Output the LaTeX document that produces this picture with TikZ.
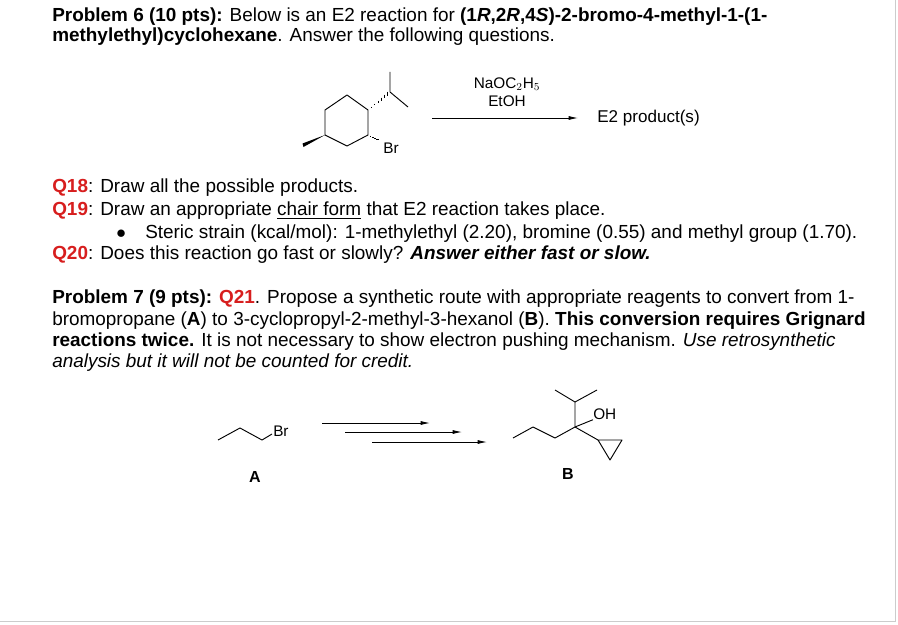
\documentclass[tikz,border=0pt]{standalone}
\usepackage{fontspec}
\setmainfont{Liberation Sans}
\usetikzlibrary{arrows.meta,calc}
\begin{document}
\begin{tikzpicture}[x=0.75pt,y=-0.75pt,
  txt/.style={anchor=west,inner sep=0,font=\fontsize{14.2}{16}\selectfont},
  sm/.style={inner sep=0,font=\fontsize{11.5}{13}\selectfont},
  bond/.style={line width=0.7pt,line join=round},
  rxn/.style={line width=0.6pt,-{Latex[length=7pt,width=3pt]}}]
\useasboundingbox (0,0) rectangle (898,624);
\draw[gray!40] (895,0) -- (895,621) -- (0,621);
\definecolor{qred}{RGB}{215,30,30}
\node[txt] (l1) at (52,17) {\textbf{Problem 6 (10 pts):} Below is an E2 reaction for \textbf{(1\textit{R},2\textit{R},4\textit{S})-2-bromo-4-methyl-1-(1-}};
\node[txt] (l2) at (52,37) {\textbf{methylethyl)cyclohexane}. Answer the following questions.};
% cyclohexane
\coordinate (r1) at (347,95); \coordinate (r2) at (368,110); \coordinate (r3) at (368,135);
\coordinate (r4) at (347,146); \coordinate (r5) at (325,135); \coordinate (r6) at (325,110);
\draw[bond] (r1)--(r2)--(r3)--(r4)--(r5)--(r6)--cycle;
\fill (r5) -- (302.5,143.5) -- (303.5,147) -- cycle;
\coordinate (ip) at (390,92);
\foreach \t in {0.15,0.3,...,0.95} \draw[line width=0.5pt] ($(r2)!\t!(ip)+(0,-2.5*\t)$) -- ($(r2)!\t!(ip)+(0,2.5*\t)$);
\draw[bond] (ip)--(390,72) (ip)--(408,107);
\node[sm] (br1) at (391,148) {Br};
\foreach \t in {0.2,0.4,0.6,0.8} \draw[line width=0.5pt] ($(r3)!\t!(380,140)+(-2*\t,0)$) -- ($(r3)!\t!(380,140)+(2*\t,0)$);
\coordinate (a1s) at (432,118); \coordinate (a1e) at (578,118);
\draw[rxn] (a1s) -- (a1e);
\node[sm] (na) at (507,84) {NaOC$_2$H$_5$};
\node[sm] (et) at (507,101) {EtOH};
\node[txt,font=\fontsize{12.8}{14}\selectfont] (e2) at (597,118) {E2 product(s)};
% questions
\node[txt] (q18) at (52,188) {\textcolor{qred}{\textbf{Q18}}: Draw all the possible products.};
\node[txt] (q19) at (52,211) {\textcolor{qred}{\textbf{Q19}}: Draw an appropriate \underline{chair form} that E2 reaction takes place.};
\node[txt] (bul) at (116,234) {$\bullet$};
\node[txt] (st) at (145,234) {Steric strain (kcal/mol): 1-methylethyl (2.20), bromine (0.55) and methyl group (1.70).};
\node[txt] (q20) at (52,255) {\textcolor{qred}{\textbf{Q20}}: Does this reaction go fast or slowly? \textbf{\textit{Answer either fast or slow.}}};
\node[txt] (p1) at (52,299) {\textbf{Problem 7 (9 pts): \textcolor{qred}{Q21}}. Propose a synthetic route with appropriate reagents to convert from 1-};
\node[txt] (p2) at (52,321) {bromopropane (\textbf{A}) to 3-cyclopropyl-2-methyl-3-hexanol (\textbf{B}). \textbf{This conversion requires Grignard}};
\node[txt] (p3) at (52,342) {\textbf{reactions twice.} It is not necessary to show electron pushing mechanism. \textit{Use retrosynthetic}};
\node[txt] (p4) at (52,363) {\textit{analysis but it will not be counted for credit.}};
% A
\draw[bond] (218,440)--(240,428)--(262,440)--(272,434);
\node[sm,anchor=west] (brA) at (273,431) {Br};
\node[txt,font=\bfseries\fontsize{12}{13}\selectfont,anchor=center] (A) at (255,477) {A};
\draw[rxn] (322,423) -- (430,423);
\draw[rxn] (345,432) -- (462,432);
\draw[rxn] (372,442) -- (487,442);
% B
\coordinate (c) at (575,427);
\draw[bond] (513,438)--(533,427)--(555,438)--(c)--(575,402)--(555,390) (575,402)--(597,390);
\node[sm,anchor=west] (oh) at (593,414) {OH};
\draw[bond] (c)--(oh.south west);
\draw[bond] (c)--(598,440);
\draw[bond] (598,440)--(622,440)--(610,460)--cycle;
\node[txt,font=\bfseries\fontsize{12}{13}\selectfont,anchor=center] (B) at (568,474) {B};
\end{tikzpicture}
\end{document}
